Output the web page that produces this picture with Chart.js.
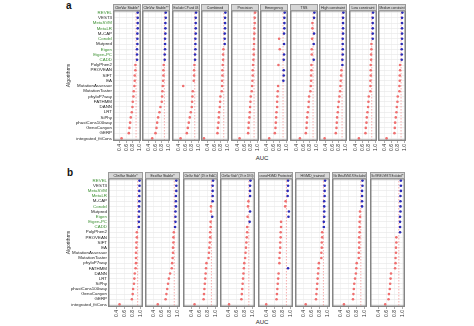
<!DOCTYPE html>
<html>
<head>
<meta charset="utf-8">
<script src="https://cdn.jsdelivr.net/npm/chart.js@4.4.1/dist/chart.umd.min.js"></script>
<style>
  html, body { margin: 0; padding: 0; background: #fff; }
  #fig { position: relative; width: 474px; height: 326px; overflow: hidden; font-family: "Liberation Sans", Arial, sans-serif; }
  #fig canvas { position: absolute; }
  .tag { position: absolute; font-weight: bold; font-size: 10px; line-height: 10px; color: #111; }
  .xlab { position: absolute; font-size: 6px; line-height: 6px; color: #222; transform: translateX(-50%); }
</style>
</head>
<body>
<div id="fig">
  <div class="tag" style="left:66px;top:1px">a</div>
  <div class="tag" style="left:67px;top:168px">b</div>
  <div class="xlab" style="left:262px;top:155px">AUC</div>
  <div class="xlab" style="left:262px;top:319px">AUC</div>
</div>
<script>
const algorithms = ["REVEL", "VEST3", "MetaSVM", "MetaLR", "M-CAP", "Condel", "Mutpred", "Eigen", "Eigen-PC", "CADD",
  "PolyPhen2", "PROVEAN", "SIFT", "EA", "MutationAssessor", "MutationTaster", "phyloP7way", "FATHMM", "DANN", "LRT",
  "SiPhy", "phastCons100way", "GenoCanyon", "GERP", "integrated_fitCons"];
const ensemble = ["REVEL", "MetaSVM", "MetaLR", "Condel", "Eigen", "Eigen-PC", "CADD"];
const xTicks = [0.4, 0.6, 0.8, 1.0];

// panel a: benchmark sets
const titlesA = ["ClinVar Stable*", "ClinVar Stable**", "Exclude CP and LB", "Combined", "Precision",
  "Emergency", "TSS", "High constraint", "Low constraint", "Medium constraint"];
const aucA = [
  [0.95,0.95,0.95,0.95,0.94,0.94,0.94,0.93,0.93,0.93,0.88,0.88,0.86,0.86,0.85,0.83,0.82,0.80,0.79,0.77,0.74,0.72,0.70,0.68,0.46],
  [0.92,0.92,0.91,0.91,0.91,0.90,0.90,0.90,0.89,0.89,0.86,0.85,0.85,0.84,0.83,0.82,0.81,0.80,0.76,0.73,0.69,0.66,0.64,0.61,0.51],
  [0.93,0.92,0.92,0.92,0.92,0.91,0.91,0.91,0.90,0.90,0.88,0.87,0.87,0.86,0.54,0.83,0.82,0.81,0.80,0.77,0.74,0.71,0.68,0.65,0.46],
  [0.94,0.93,0.93,0.93,0.92,0.92,0.92,0.88,0.87,0.87,0.86,0.85,0.85,0.84,0.84,0.83,0.79,0.78,0.77,0.75,0.74,0.73,0.71,0.70,0.29],
  [0.93,0.92,0.92,0.91,0.91,0.90,0.90,0.89,0.89,0.88,0.87,0.86,0.86,0.85,0.84,0.83,0.80,0.79,0.78,0.77,0.76,0.74,0.73,0.72,0.46],
  [0.95,0.94,0.94,0.94,0.93,0.78,0.93,0.80,0.93,0.92,0.76,0.92,0.92,0.91,0.75,0.74,0.73,0.72,0.72,0.70,0.69,0.68,0.67,0.65,0.48],
  [0.94,0.93,0.88,0.88,0.93,0.87,0.92,0.86,0.86,0.92,0.85,0.85,0.84,0.84,0.83,0.82,0.78,0.77,0.76,0.74,0.72,0.71,0.70,0.68,0.50],
  [0.94,0.93,0.93,0.93,0.93,0.92,0.92,0.92,0.92,0.91,0.91,0.88,0.87,0.86,0.85,0.84,0.82,0.80,0.78,0.77,0.75,0.74,0.73,0.71,0.37],
  [0.93,0.92,0.92,0.92,0.92,0.92,0.88,0.88,0.87,0.87,0.86,0.86,0.86,0.85,0.85,0.85,0.80,0.79,0.78,0.76,0.74,0.73,0.71,0.70,0.50],
  [0.94,0.93,0.93,0.93,0.93,0.93,0.92,0.92,0.92,0.92,0.87,0.87,0.86,0.86,0.85,0.85,0.80,0.79,0.77,0.76,0.74,0.72,0.71,0.70,0.46]
];
// rows not different from the best predictor (drawn blue)
const bestA = [
  [0,1,2,3,4,5,6,7,8,9], [0,1,2,3,4,5,6,7,8,9], [0,1,2,3,4,5,6,7,8,9], [0,1,2,3,4,5,6], [],
  [0,1,2,3,4,6,8,9,11,12,13], [0,1,4,6,9], [0,1,2,3,4,5,6,7,8,9,10], [0,1,2,3,4,5], [0,1,2,3,4,5,6,7,8,9]
];
const refA = [0.90, 0.88, 0.89, 0.89, 0.90, 0.90, 0.90, 0.90, 0.89, 0.90];

// panel b: alternative training / filtering sets
const titlesB = ["ClinVar Stable*", "ExoVar Stable*", "ClinVar Stab* (1% in ExAC)", "ClinVar Stab* (1% in 1KG)",
  "crossHGMD Protected", "HGMD_trained", "No MetaSVM/LR Excluded", "No REVEL/VEST3 Excluded**"];
const aucB = [
  [0.965,0.965,0.96,0.96,0.96,0.955,0.955,0.95,0.95,0.95,0.90,0.90,0.89,0.89,0.88,0.88,0.88,0.87,0.85,0.84,0.83,0.81,0.80,0.78,0.48],
  [0.96,0.96,0.96,0.95,0.95,0.95,0.94,0.94,0.94,0.93,0.90,0.89,0.89,0.88,0.88,0.87,0.86,0.85,0.81,0.78,0.76,0.74,0.72,0.70,0.51],
  [0.93,0.92,0.92,0.92,0.92,0.88,0.88,0.91,0.87,0.87,0.86,0.86,0.85,0.84,0.83,0.82,0.77,0.76,0.75,0.74,0.73,0.72,0.71,0.70,0.48],
  [0.94,0.93,0.93,0.93,0.89,0.88,0.93,0.87,0.92,0.86,0.86,0.85,0.84,0.83,0.82,0.81,0.79,0.78,0.77,0.76,0.75,0.74,0.73,0.72,0.42],
  [0.93,0.93,0.92,0.92,0.87,0.86,0.95,0.94,0.76,0.76,0.75,0.75,0.74,0.74,0.73,0.72,0.72,0.93,0.70,0.69,0.68,0.67,0.66,0.65,0.40],
  [0.93,0.92,0.92,0.92,0.91,0.91,0.91,0.91,0.90,0.90,0.86,0.86,0.85,0.85,0.84,0.84,0.78,0.77,0.76,0.75,0.74,0.73,0.72,0.71,0.46],
  [0.94,0.94,0.93,0.93,0.93,0.93,0.88,0.88,0.87,0.87,0.87,0.86,0.86,0.86,0.85,0.85,0.80,0.79,0.78,0.76,0.74,0.73,0.72,0.71,0.49],
  [0.95,0.95,0.95,0.94,0.94,0.94,0.94,0.93,0.93,0.93,0.93,0.84,0.84,0.83,0.83,0.82,0.82,0.81,0.71,0.70,0.69,0.68,0.66,0.65,0.57]
];
const bestB = [
  [0,1,2,3,4,5,6,7,8,9], [0,1,2,3,4,5,6,7,8,9], [0,1,2,3,4,7], [0,1,2,3,6,8],
  [0,1,2,3,6,7,17], [0,1,2,3,4,5,6,7,8,9], [0,1,2,3,4,5], [0,1,2,3,4,5,6,7,8,9,10]
];
const refB = [0.92, 0.91, 0.89, 0.90, 0.89, 0.89, 0.90, 0.90];

const BLUE = "#2a2ab8";
const RED = "#ef6f6f";
const GREEN = "#3b8f30";
const FONT = "'Liberation Sans', Arial, sans-serif";
const NARROW = "'Liberation Sans Narrow', 'Arial Narrow', 'Liberation Sans', sans-serif";

// grey strip on top, frame round the panel, dashed reference line
const facetPlugin = {
  id: "facet",
  beforeDatasetsDraw(chart, args, opts) {
    const { ctx, chartArea: a, scales: { x } } = chart;
    const px = x.getPixelForValue(opts.ref);
    ctx.save();
    ctx.strokeStyle = "#f29a9a";
    ctx.lineWidth = 0.8;
    ctx.setLineDash([1.5, 1.5]);
    ctx.beginPath();
    ctx.moveTo(px, a.top);
    ctx.lineTo(px, a.bottom);
    ctx.stroke();
    ctx.restore();
  },
  afterDraw(chart, args, opts) {
    const { ctx, chartArea: a } = chart;
    ctx.save();
    ctx.strokeStyle = "#858585";
    ctx.lineWidth = 1.5;
    ctx.strokeRect(a.left + 0.75, a.top + 0.75, a.width - 1.5, a.height - 1.5);
    ctx.fillStyle = "#d6d6d6";
    ctx.fillRect(a.left, a.top - opts.height, a.width, opts.height);
    ctx.lineWidth = 1;
    ctx.strokeStyle = "#9a9a9a";
    ctx.strokeRect(a.left + 0.5, a.top - opts.height + 0.5, a.width - 1, opts.height);
    ctx.fillStyle = "#222";
    ctx.font = "3.6px " + FONT;
    ctx.textAlign = "center";
    ctx.textBaseline = "middle";
    ctx.fillText(opts.text, (a.left + a.right) / 2, a.top - opts.height / 2 + 0.5, a.width - 3);
    ctx.restore();
  }
};

const fig = document.getElementById("fig");

function facet(p, i) {
  const first = i === 0;
  const left = Math.round(p.left + i * p.pitch);
  const axisW = first ? left - 66 : 0;
  const canvas = document.createElement("canvas");
  canvas.width = p.width + axisW;
  canvas.height = p.strip + p.plot + p.tickH;
  canvas.style.left = (left - axisW) + "px";
  canvas.style.top = p.top + "px";
  fig.appendChild(canvas);

  const auc = p.auc[i];
  new Chart(canvas, {
    type: "scatter",
    data: {
      datasets: [{
        data: auc.map((v, r) => ({ x: v, y: algorithms[r] })),
        pointBackgroundColor: auc.map((v, r) => p.best[i].includes(r) ? BLUE : RED),
        pointRadius: 1.3,
        pointHoverRadius: 0,
        pointBorderWidth: 0
      }]
    },
    options: {
      responsive: false,
      animation: false,
      events: [],
      layout: { autoPadding: false, padding: { top: p.strip, left: 0, right: 0, bottom: 0 } },
      plugins: {
        legend: { display: false },
        tooltip: { enabled: false },
        facet: { text: p.titles[i], ref: p.ref[i], height: p.strip }
      },
      scales: {
        x: {
          type: "linear",
          min: 0.2,
          max: 1.05,
          afterBuildTicks: s => { s.ticks = xTicks.map(v => ({ value: v })); },
          ticks: {
            autoSkip: false, minRotation: 90, maxRotation: 90, padding: 1,
            font: { size: 5, family: FONT }, color: "#333",
            callback: v => v.toFixed(1)
          },
          grid: { color: "#ededed", lineWidth: 0.6, tickLength: 2, tickColor: "#777" },
          border: { display: false },
          afterFit: s => { s.height = p.tickH; s.paddingLeft = 0; s.paddingRight = 0; }
        },
        y: {
          type: "category",
          labels: algorithms,
          offset: true,
          grid: { color: "#e6e6e6", lineWidth: 0.6, offset: false, drawTicks: false },
          border: { display: false },
          ticks: {
            display: first, autoSkip: false, padding: 1,
            font: { size: 4.4, family: NARROW },
            color: c => ensemble.includes(algorithms[c.index]) ? GREEN : "#222"
          },
          title: { display: first, text: "Algorithms", font: { size: 5, family: FONT }, color: "#333", padding: 0 },
          afterFit: s => { s.width = axisW; s.paddingTop = 0; s.paddingBottom = 0; }
        }
      }
    },
    plugins: [facetPlugin]
  });
}

const panelA = { titles: titlesA, auc: aucA, best: bestA, ref: refA,
  left: 113, pitch: 29.45, width: 28, top: 4, strip: 6, plot: 131, tickH: 14 };
const panelB = { titles: titlesB, auc: aucB, best: bestB, ref: refB,
  left: 108, pitch: 37.4, width: 35, top: 172, strip: 6, plot: 129, tickH: 14 };

titlesA.forEach((t, i) => facet(panelA, i));
titlesB.forEach((t, i) => facet(panelB, i));
</script>
</body>
</html>
